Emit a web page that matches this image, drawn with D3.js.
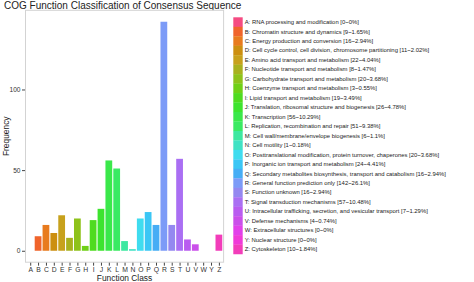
<!DOCTYPE html>
<html>
<head>
<meta charset="utf-8">
<script src="https://cdn.jsdelivr.net/npm/d3@7/dist/d3.min.js"></script>
<style>
  body { margin: 0; background: #fff; }
  svg text { font-family: "Liberation Sans", Arial, sans-serif; }
</style>
</head>
<body>
<svg id="chart" width="474" height="282"></svg>
<script>
var codes = ["A","B","C","D","E","F","G","H","I","J","K","L","M","N","O","P","Q","R","S","T","U","V","W","Y","Z"];
var counts = [0, 9, 16, 11, 22, 8, 20, 3, 19, 26, 56, 51, 6, 1, 20, 24, 16, 142, 16, 57, 7, 4, 0, 0, 10];
var percents = ["0%","1.65%","2.94%","2.02%","4.04%","1.47%","3.68%","0.55%","3.49%","4.78%","10.29%","9.38%","1.1%","0.18%","3.68%","4.41%","2.94%","26.1%","2.94%","10.48%","1.29%","0.74%","0%","0%","1.84%"];
var names = [
    "RNA processing and modification",
    "Chromatin structure and dynamics",
    "Energy production and conversion",
    "Cell cycle control, cell division, chromosome partitioning",
    "Amino acid transport and metabolism",
    "Nucleotide transport and metabolism",
    "Carbohydrate transport and metabolism",
    "Coenzyme transport and metabolism",
    "Lipid transport and metabolism",
    "Translation, ribosomal structure and biogenesis",
    "Transcription",
    "Replication, recombination and repair",
    "Cell wall/membrane/envelope biogenesis",
    "Cell motility",
    "Posttranslational modification, protein turnover, chaperones",
    "Inorganic ion transport and metabolism",
    "Secondary metabolites biosynthesis, transport and catabolism",
    "General function prediction only",
    "Function unknown",
    "Signal transduction mechanisms",
    "Intracellular trafficking, secretion, and vesicular transport",
    "Defense mechanisms",
    "Extracellular structures",
    "Nuclear structure",
    "Cytoskeleton"
];
var colors = ["#f54b82","#f0642b","#e87b1e","#cc8f10","#c7a11c","#a8b11e","#8ec21a","#6fd016","#4fdb1f","#3de42e","#3ae84a","#3aea62","#3de8a0","#40e2c4","#3fdcef","#3ac6f5","#46adf5","#7c9bf7","#9488f0","#aa6ff3","#b95cf0","#ca4fea","#e240ea","#f03ad8","#f23dba"];
var yTicks = [0, 50, 100];

var svg = d3.select("#chart");

var panel = { left: 25.5, right: 223.6, top: 10.3, bottom: 262.2 };

var x = d3.scalePoint().domain(codes).range([panel.left, panel.right]).padding(0.6);
var y = d3.scaleLinear().domain([-7.1, 149.1]).range([panel.bottom, panel.top]);
var barW = x.step() * 0.86;

// title
svg.append("text")
    .attr("x", 4).attr("y", 8.5)
    .style("font-size", "10px").style("fill", "#222")
    .text("COG Function Classification of Consensus Sequence");

// panel
svg.append("rect")
    .attr("x", panel.left).attr("y", panel.top)
    .attr("width", panel.right - panel.left).attr("height", panel.bottom - panel.top)
    .attr("fill", "#fff").attr("stroke", "#d3d3d3").attr("stroke-width", 1);

svg.selectAll(".bar")
    .data(codes)
    .enter()
    .append("rect")
    .attr("class", "bar")
    .attr("x", (d) => x(d) - barW / 2)
    .attr("width", barW)
    .attr("y", (d, i) => y(counts[i]))
    .attr("height", (d, i) => y(0) - y(counts[i]))
    .attr("fill", (d, i) => colors[i]);

// axes
var axisX = d3.axisBottom(x).tickSize(3).tickPadding(1.5);
var gx = svg.append("g").attr("transform", "translate(0," + (panel.bottom + 0.5) + ")").call(axisX);
gx.select(".domain").remove();
gx.selectAll("line").attr("stroke", "#444");
gx.selectAll("text").style("font-size", "6.8px").style("fill", "#333")
    .style("font-family", "Liberation Sans, Arial, sans-serif");

var axisY = d3.axisLeft(y).tickValues(yTicks).tickSize(3).tickPadding(1.5);
var gy = svg.append("g").attr("transform", "translate(" + (panel.left - 0.5) + ",0)").call(axisY);
gy.select(".domain").remove();
gy.selectAll("line").attr("stroke", "#444");
gy.selectAll("text").style("font-size", "6.6px").style("fill", "#333")
    .style("font-family", "Liberation Sans, Arial, sans-serif");

svg.append("text")
    .attr("x", (panel.left + panel.right) / 2).attr("y", 280.5)
    .attr("text-anchor", "middle")
    .style("font-size", "8.4px").style("fill", "#222")
    .text("Function Class");

svg.append("text")
    .attr("transform", "translate(9," + ((panel.top + panel.bottom) / 2) + ") rotate(-90)")
    .attr("text-anchor", "middle")
    .style("font-size", "8.4px").style("fill", "#222")
    .text("Frequency");

// legend
var rowH = 9.47;
var legend = svg.append("g").attr("transform", "translate(233.3,17.3)");
var rows = legend.selectAll(".row")
    .data(codes)
    .enter()
    .append("g")
    .attr("class", "row")
    .attr("transform", (d, i) => "translate(0," + (i * rowH) + ")");

rows.append("rect")
    .attr("width", 9.4).attr("height", rowH + 0.2)
    .attr("fill", (d, i) => colors[i]);

rows.append("text")
    .attr("x", 11.4).attr("y", rowH / 2 + 2)
    .style("font-size", "5.9px").style("fill", "#222")
    .text((d, i) => d + ": " + names[i] + " [" + counts[i] + "~" + percents[i] + "]");
</script>
</body>
</html>
